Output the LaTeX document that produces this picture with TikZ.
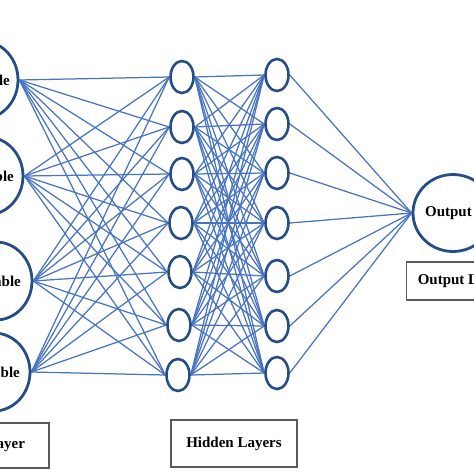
\documentclass[tikz,border=0pt]{standalone}
\usepackage{fontspec}
\setmainfont{Liberation Serif}
\usetikzlibrary{shapes.geometric}
\definecolor{edgeblue}{RGB}{72,116,192}
\definecolor{nodeblue}{RGB}{38,78,134}
\definecolor{boxgray}{RGB}{90,90,90}
\pgfdeclarelayer{bg}
\pgfsetlayers{bg,main}
\tikzset{
  txt/.style={font=\fontsize{15}{17}\selectfont\bfseries},
  bignode/.style={ellipse,draw=nodeblue,line width=2.8pt,fill=white,minimum width=72pt,minimum height=78pt,inner sep=0pt},
  hidnode/.style={ellipse,draw=nodeblue,line width=2.6pt,fill=white,minimum width=23pt,minimum height=32pt,inner sep=0pt},
  conn/.style={draw=edgeblue,line width=1.25pt},
  labbox/.style={draw=boxgray,line width=1.3pt,fill=white,txt,inner sep=0pt}
}
\begin{document}
\begin{tikzpicture}[x=1pt,y=-1pt]
\useasboundingbox (0,0) rectangle (474,474);
\clip (0,0) rectangle (474,474);
% input nodes
\node[bignode,label={[txt,anchor=east,xshift=-6pt]east:Variable}] (i1) at (-18,80) {};
\node[bignode,label={[txt,anchor=east,xshift=-7pt]east:Variable}] (i2) at (-13,176) {};
\node[bignode,label={[txt,anchor=east,xshift=-9pt]east:Variable}] (i3) at (-4,281) {};
\node[bignode,label={[txt,anchor=east,xshift=-8pt]east:Variable}] (i4) at (-6,372) {};
% hidden layer 1
\node[hidnode] (a1) at (182,77) {};
\node[hidnode] (a2) at (182,127) {};
\node[hidnode] (a3) at (182,174) {};
\node[hidnode] (a4) at (181,223) {};
\node[hidnode] (a5) at (180,272) {};
\node[hidnode] (a6) at (179,325) {};
\node[hidnode] (a7) at (178,375) {};
% hidden layer 2
\node[hidnode] (b1) at (277,75) {};
\node[hidnode] (b2) at (277,124) {};
\node[hidnode] (b3) at (277,173) {};
\node[hidnode] (b4) at (277,223) {};
\node[hidnode] (b5) at (277,276) {};
\node[hidnode] (b6) at (277,326) {};
\node[hidnode] (b7) at (277,373) {};
% output
\node[bignode,minimum width=80pt,minimum height=77pt,label={[txt,anchor=west,xshift=10pt]west:Output Variable}] (o) at (453,213) {};
% connectors
\begin{pgfonlayer}{bg}
\foreach \i in {1,...,4}{\foreach \j in {1,...,7}{\path[conn] (i\i.east) -- (a\j.west);}}
\foreach \i in {1,...,7}{\foreach \j in {1,...,7}{\path[conn] (a\i.east) -- (b\j.west);}}
\foreach \i in {1,...,7}{\path[conn] (b\i.east) -- (o.west);}
\end{pgfonlayer}
% layer labels
\node[labbox,minimum width=126pt,minimum height=45pt] (inbox) at (-14,445.5) {Input Layer};
\node[labbox,minimum width=126pt,minimum height=47pt] (hidbox) at (234,443.5) {Hidden Layers};
\node[labbox,anchor=west,minimum width=104pt,minimum height=38pt] (outbox) at (406,281) {\hspace{7pt}Output Layer\hspace{7pt}};
\end{tikzpicture}
\end{document}
